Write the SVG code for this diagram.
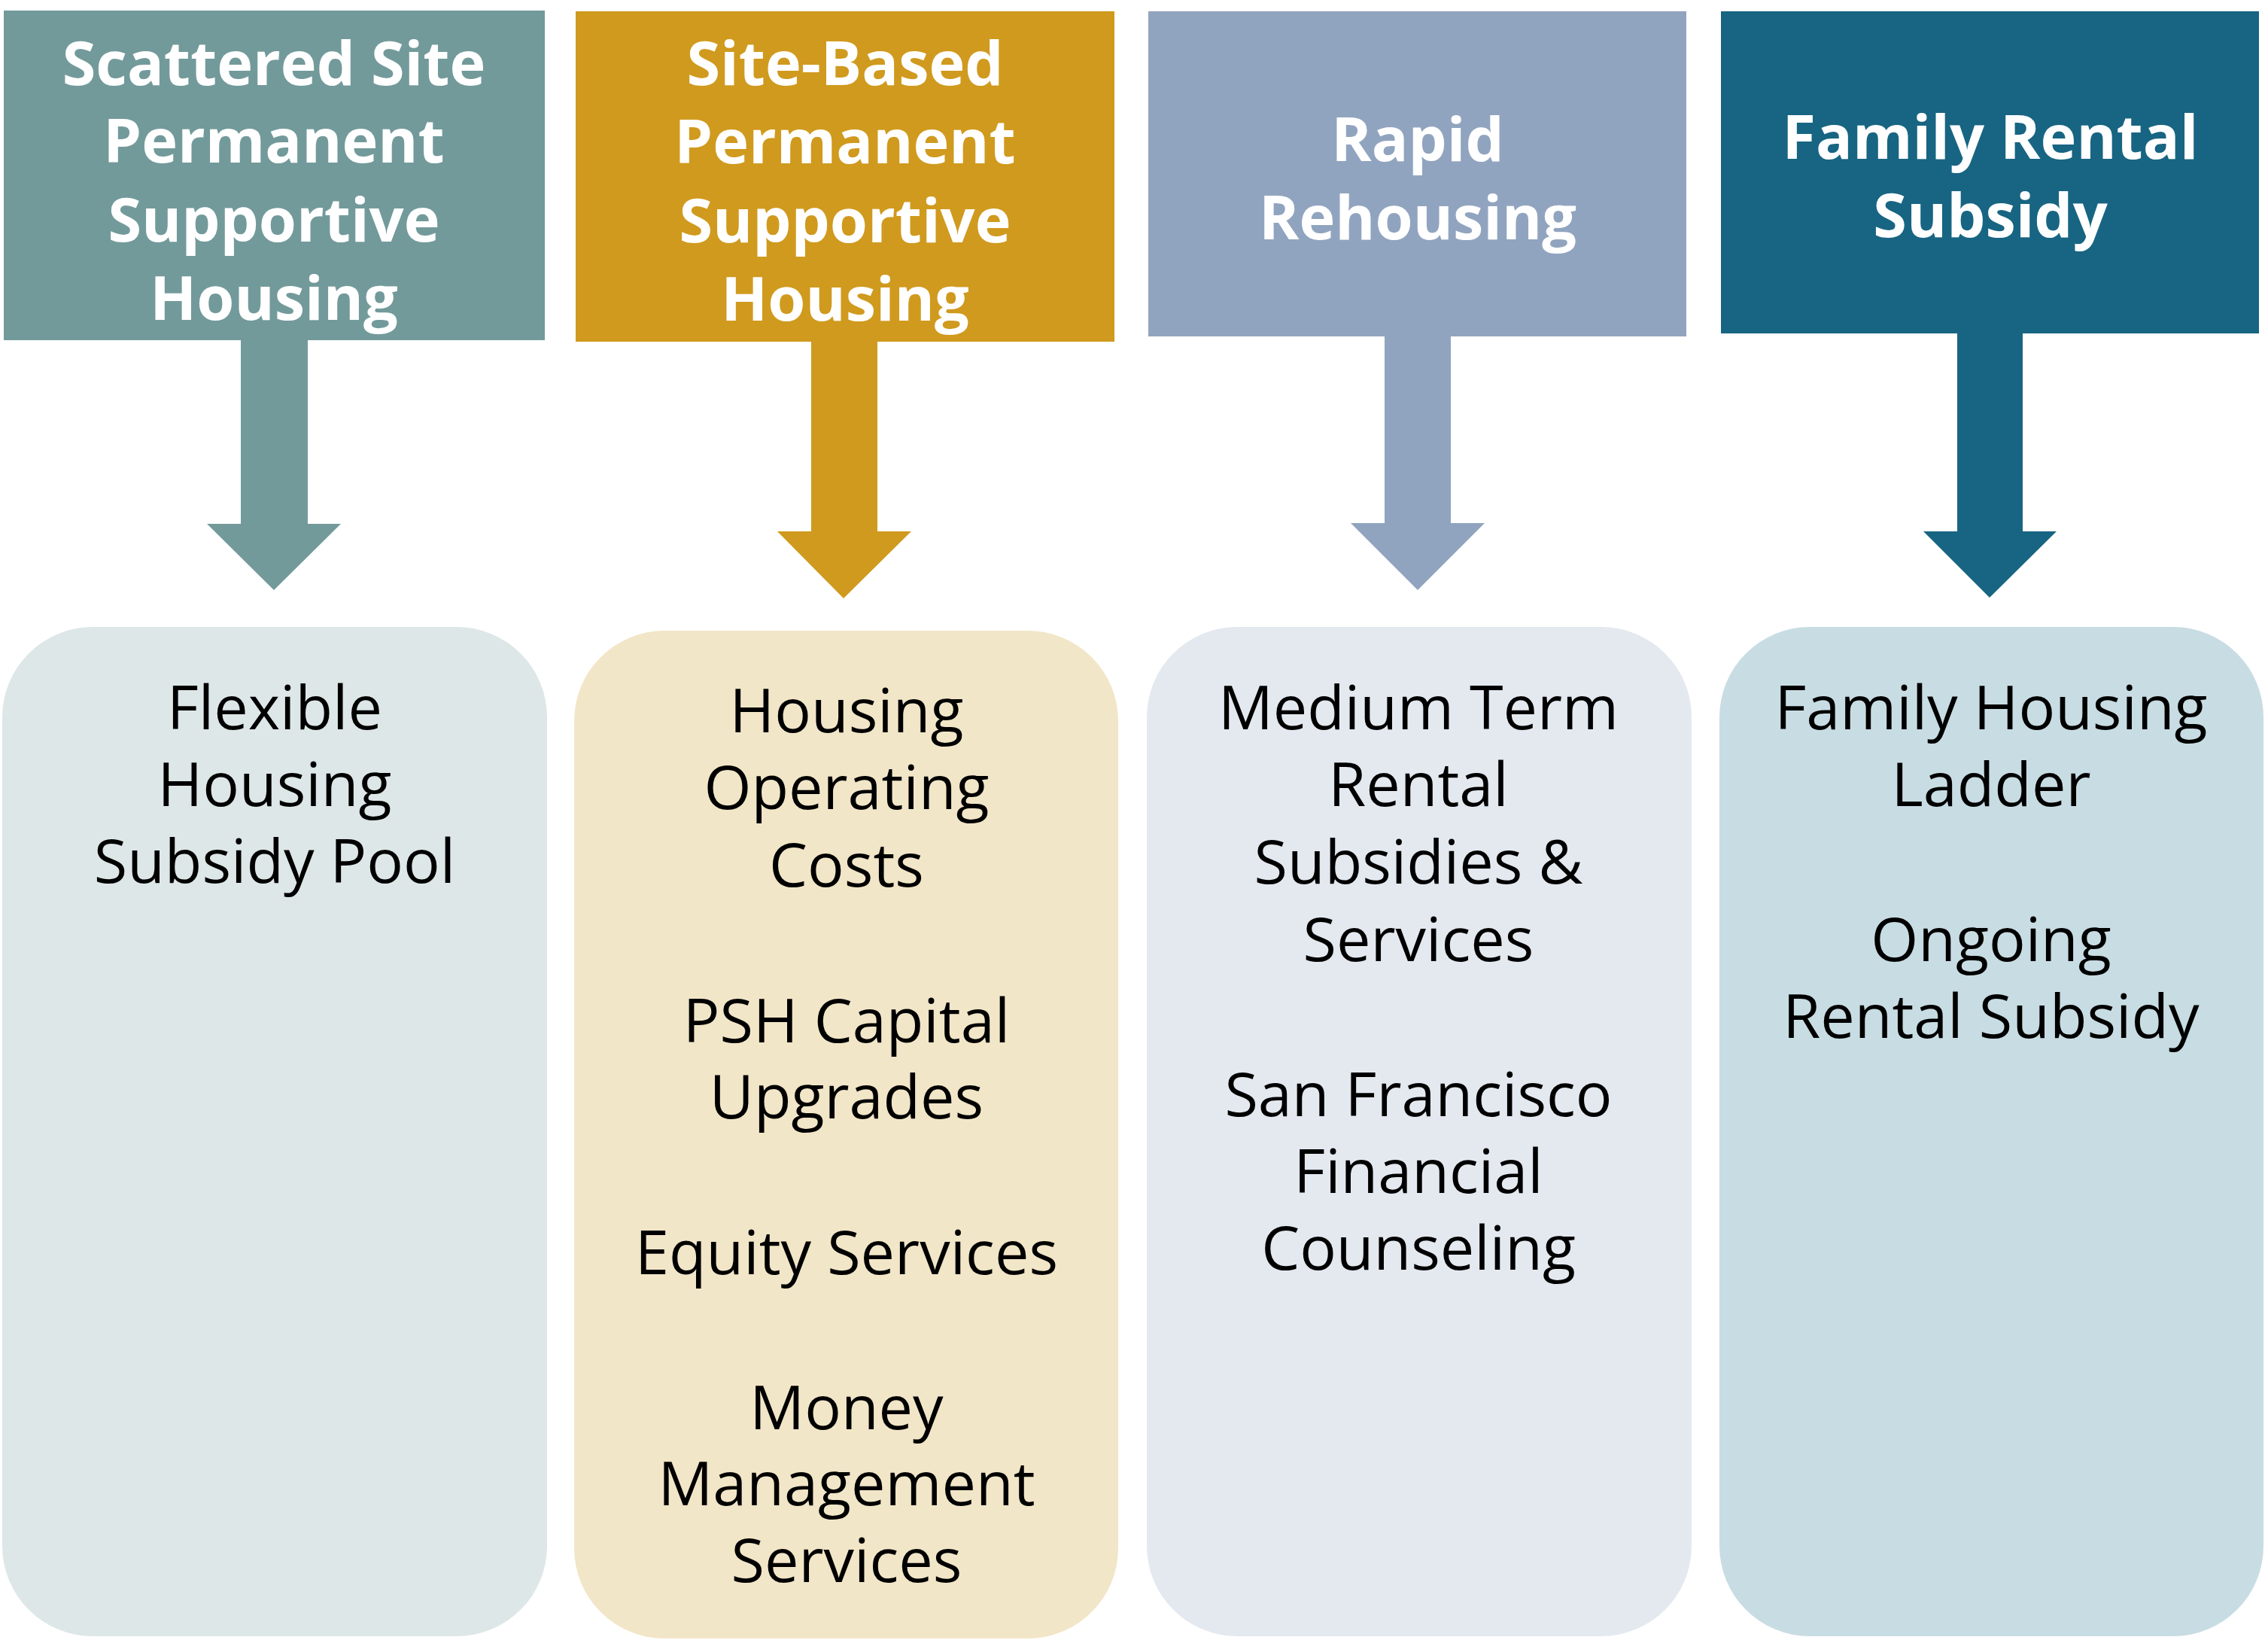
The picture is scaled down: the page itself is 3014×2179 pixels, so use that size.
<svg xmlns="http://www.w3.org/2000/svg" width="3014" height="2179" viewBox="0 0 3014 2179">
<style>
.hd{font-family:"Open Sans","Noto Sans","Liberation Sans",sans-serif;font-weight:700;font-size:81px;fill:#fff;text-anchor:middle}
.bd{font-family:"Open Sans","Noto Sans","Liberation Sans",sans-serif;font-weight:400;font-size:81px;fill:#000;text-anchor:middle}
</style>
<rect width="3014" height="2179" fill="#fff"/>
<g id="connectors">
<polygon fill="#739A9B" points="320,450 409,450 409,696 453,696 364,784 275,696 320,696"/>
<polygon fill="#D09A1E" points="1078,452 1166,452 1166,706 1211,706 1121,795 1033,706 1078,706"/>
<polygon fill="#91A4BF" points="1840,445 1928,445 1928,695 1973,695 1884,784 1795,695 1840,695"/>
<polygon fill="#176582" points="2601,441 2688,441 2688,706 2733,706 2644,794 2556,706 2601,706"/>
</g>
<g id="h1">
<rect x="5" y="14" width="719" height="438" fill="#739A9B"/>
<text class="hd" x="364" y="113">Scattered Site</text>
<text class="hd" x="364" y="216">Permanent</text>
<text class="hd" x="364" y="321">Supportive</text>
<text class="hd" x="364" y="425">Housing</text>
</g>
<g id="h2">
<rect x="765" y="15" width="716" height="439" fill="#D09A1E"/>
<text class="hd" x="1123" y="113">Site-Based</text>
<text class="hd" x="1123" y="217">Permanent</text>
<text class="hd" x="1123" y="322">Supportive</text>
<text class="hd" x="1123" y="426">Housing</text>
</g>
<g id="h3">
<rect x="1526" y="15" width="715" height="432" fill="#91A4BF"/>
<text class="hd" x="1884" y="214">Rapid</text>
<text class="hd" x="1884" y="318">Rehousing</text>
</g>
<g id="h4">
<rect x="2287" y="15" width="715" height="428" fill="#176582"/>
<text class="hd" x="2645" y="211">Family Rental</text>
<text class="hd" x="2645" y="315">Subsidy</text>
</g>
<g id="b1">
<rect x="3" y="833" width="724" height="1341" rx="120" ry="120" fill="#DEE7E7"/>
<text class="bd" x="365" y="969">Flexible</text>
<text class="bd" x="365" y="1071">Housing</text>
<text class="bd" x="365" y="1173">Subsidy Pool</text>
</g>
<g id="b2">
<rect x="763" y="838" width="723" height="1339" rx="120" ry="120" fill="#F2E6C8"/>
<text class="bd" x="1125" y="973">Housing</text>
<text class="bd" x="1125" y="1075">Operating</text>
<text class="bd" x="1125" y="1178">Costs</text>
<text class="bd" x="1125" y="1385">PSH Capital</text>
<text class="bd" x="1125" y="1486">Upgrades</text>
<text class="bd" x="1125" y="1693">Equity Services</text>
<text class="bd" x="1125" y="1899">Money</text>
<text class="bd" x="1125" y="2000">Management</text>
<text class="bd" x="1125" y="2102">Services</text>
</g>
<g id="b3">
<rect x="1524" y="833" width="724" height="1341" rx="120" ry="120" fill="#E4E9F0"/>
<text class="bd" x="1885" y="969">Medium Term</text>
<text class="bd" x="1885" y="1071">Rental</text>
<text class="bd" x="1885" y="1174">Subsidies &amp;</text>
<text class="bd" x="1885" y="1277">Services</text>
<text class="bd" x="1885" y="1483">San Francisco</text>
<text class="bd" x="1885" y="1585">Financial</text>
<text class="bd" x="1885" y="1687">Counseling</text>
</g>
<g id="b4">
<rect x="2285" y="833" width="723" height="1341" rx="120" ry="120" fill="#C8DCE3"/>
<text class="bd" x="2646" y="969">Family Housing</text>
<text class="bd" x="2646" y="1071">Ladder</text>
<text class="bd" x="2646" y="1277">Ongoing</text>
<text class="bd" x="2646" y="1379">Rental Subsidy</text>
</g>
</svg>
